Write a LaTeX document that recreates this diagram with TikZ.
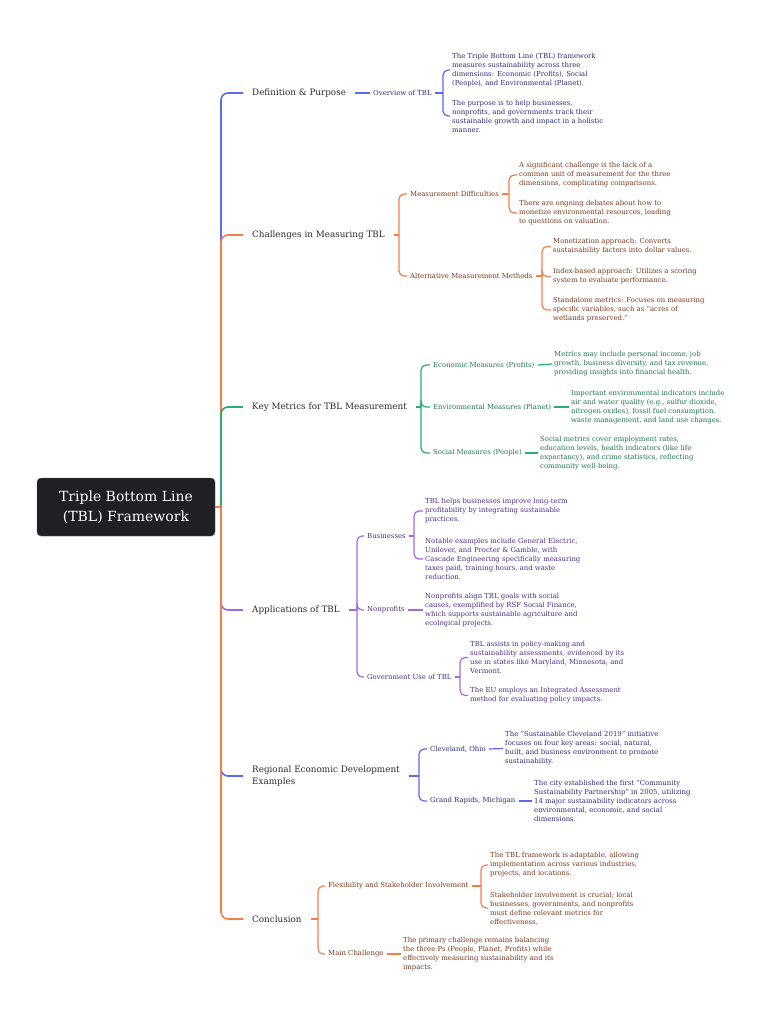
\documentclass[tikz,border=0pt]{standalone}
\usepackage{fontspec}
\setmainfont{DejaVu Serif}
\usetikzlibrary{positioning}
\definecolor{tbink}{HTML}{2B2B2B}
\definecolor{tbroot}{HTML}{1F2023}
\definecolor{tbblue}{HTML}{5A6AF2}
\definecolor{tborange}{HTML}{F67F48}
\definecolor{tbgreen}{HTML}{2AAE6E}
\definecolor{tbpurple}{HTML}{A06AE6}
\definecolor{tbnavy}{HTML}{2E2F7C}
\definecolor{tbbrown}{HTML}{7C3A1E}
\definecolor{tbforest}{HTML}{21794D}
\definecolor{tbplum}{HTML}{4E2F86}
\tikzset{
  tb root/.style={fill=tbroot, draw=tbroot!70!white, rounded corners=4pt, text=white,
    minimum width=178pt, minimum height=58pt, align=center,
    font=\fontsize{14}{20}\selectfont},
  tb trunk/.style={draw=#1, line width=1.6pt, rounded corners=7pt},
  tb link/.style={draw=#1, line width=1.2pt, rounded corners=5pt},
  tb branch/.style={anchor=west, inner xsep=9pt, inner ysep=1pt, align=left, text=tbink,
    font=\fontsize{8.8}{12}\selectfont},
  tb sub/.style={anchor=west, inner xsep=3pt, inner ysep=1pt, text=#1,
    font=\fontsize{6.9}{9}\selectfont},
  tb leaf/.style={anchor=west, inner xsep=2pt, inner ysep=0pt, align=left, text=#1,
    font=\fontsize{6.9}{9}\selectfont}
}
\begin{document}
\begin{tikzpicture}[x=1pt, y=-1pt]
  \fill[white] (0,0) rectangle (768,1024);
  \useasboundingbox (0,0) rectangle (768,1024);

  \node[tb root] (root) at (126,507) {Triple Bottom Line\\(TBL) Framework};
  \coordinate (trunk) at (221,507);

  \node[tb branch] (def) at (243,93) {Definition \& Purpose};
  \node[tb branch] (chal) at (243,235) {Challenges in Measuring TBL};
  \node[tb branch] (kpi) at (243,407) {Key Metrics for TBL Measurement};
  \node[tb branch] (apps) at (243,610) {Applications of TBL};
  \node[tb branch] (reg) at (243,776) {Regional Economic Development\\Examples};
  \node[tb branch] (conc) at (243,919) {Conclusion};

  % definition
  \node[tb sub=tbnavy] (def-ov) at (370,93) {Overview of TBL};
  \coordinate (def-j) at (443,93);
  \node[tb leaf=tbnavy] (def-l1) at (450,70) {The Triple Bottom Line (TBL) framework\\measures sustainability across three\\dimensions: Economic (Profits), Social\\(People), and Environmental (Planet).};
  \node[tb leaf=tbnavy] (def-l2) at (450,116) {The purpose is to help businesses,\\nonprofits, and governments track their\\sustainable growth and impact in a holistic\\manner.};
  \draw[tb trunk=tbblue] (trunk) |- (def.west);
  \draw[tb link=tbblue] (def.east) -- (def-ov.west);
  \draw[tb link=tbblue] (def-ov.east) -- (def-j);
  \foreach \l in {def-l1,def-l2} \draw[tb link=tbblue] (def-j) |- (\l.west);

  % challenges
  \coordinate (chal-j) at (399,235);
  \node[tb sub=tbbrown] (chal-md) at (407,194) {Measurement Difficulties};
  \node[tb sub=tbbrown] (chal-am) at (407,276) {Alternative Measurement Methods};
  \coordinate (chal-mdj) at (509,194);
  \node[tb leaf=tbbrown] (chal-md1) at (517,175) {A significant challenge is the lack of a\\common unit of measurement for the three\\dimensions, complicating comparisons.};
  \node[tb leaf=tbbrown] (chal-md2) at (517,213) {There are ongoing debates about how to\\monetize environmental resources, leading\\to questions on valuation.};
  \coordinate (chal-amj) at (542,276);
  \node[tb leaf=tbbrown] (chal-am1) at (551,246.5) {Monetization approach: Converts\\sustainability factors into dollar values.};
  \node[tb leaf=tbbrown] (chal-am2) at (551,276.5) {Index-based approach: Utilizes a scoring\\system to evaluate performance.};
  \node[tb leaf=tbbrown] (chal-am3) at (551,310) {Standalone metrics: Focuses on measuring\\specific variables, such as "acres of\\wetlands preserved."};
  \draw[tb trunk=tborange] (trunk) |- (chal.west);
  \draw[tb link=tborange] (chal.east) -- (chal-j);
  \foreach \l in {chal-md,chal-am} \draw[tb link=tborange] (chal-j) |- (\l.west);
  \draw[tb link=tborange] (chal-md.east) -- (chal-mdj);
  \foreach \l in {chal-md1,chal-md2} \draw[tb link=tborange] (chal-mdj) |- (\l.west);
  \draw[tb link=tborange] (chal-am.east) -- (chal-amj);
  \foreach \l in {chal-am1,chal-am2,chal-am3} \draw[tb link=tborange] (chal-amj) |- (\l.west);

  % key metrics
  \coordinate (kpi-j) at (421,407);
  \node[tb sub=tbforest] (kpi-eco) at (430,365) {Economic Measures (Profits)};
  \node[tb sub=tbforest] (kpi-env) at (430,407) {Environmental Measures (Planet)};
  \node[tb sub=tbforest] (kpi-soc) at (430,453) {Social Measures (People)};
  \node[tb leaf=tbforest] (kpi-eco1) at (552,364) {Metrics may include personal income, job\\growth, business diversity, and tax revenue,\\providing insights into financial health.};
  \node[tb leaf=tbforest] (kpi-env1) at (569,407) {Important environmental indicators include\\air and water quality (e.g., sulfur dioxide,\\nitrogen oxides), fossil fuel consumption,\\waste management, and land use changes.};
  \node[tb leaf=tbforest] (kpi-soc1) at (538,453) {Social metrics cover employment rates,\\education levels, health indicators (like life\\expectancy), and crime statistics, reflecting\\community well-being.};
  \draw[tb trunk=tbgreen] (trunk) |- (kpi.west);
  \draw[tb link=tbgreen] (kpi.east) -- (kpi-j);
  \foreach \l in {kpi-eco,kpi-env,kpi-soc} {
    \draw[tb link=tbgreen] (kpi-j) |- (\l.west);
    \draw[tb link=tbgreen] (\l.east) -- (\l1.west);
  }

  % applications
  \coordinate (apps-j) at (357,610);
  \node[tb sub=tbplum] (apps-bus) at (364,536) {Businesses};
  \node[tb sub=tbplum] (apps-np) at (364,610) {Nonprofits};
  \node[tb sub=tbplum] (apps-gov) at (364,677) {Government Use of TBL};
  \coordinate (apps-busj) at (414,536);
  \node[tb leaf=tbplum] (apps-bus1) at (423,511) {TBL helps businesses improve long-term\\profitability by integrating sustainable\\practices.};
  \node[tb leaf=tbplum] (apps-bus2) at (423,559) {Notable examples include General Electric,\\Unilever, and Procter \& Gamble, with\\Cascade Engineering specifically measuring\\taxes paid, training hours, and waste\\reduction.};
  \node[tb leaf=tbplum] (apps-np1) at (423,610) {Nonprofits align TBL goals with social\\causes, exemplified by RSF Social Finance,\\which supports sustainable agriculture and\\ecological projects.};
  \coordinate (apps-govj) at (460,677);
  \node[tb leaf=tbplum] (apps-gov1) at (468,657.5) {TBL assists in policy-making and\\sustainability assessments, evidenced by its\\use in states like Maryland, Minnesota, and\\Vermont.};
  \node[tb leaf=tbplum] (apps-gov2) at (468,695.5) {The EU employs an Integrated Assessment\\method for evaluating policy impacts.};
  \draw[tb trunk=tbpurple] (trunk) |- (apps.west);
  \draw[tb link=tbpurple] (apps.east) -- (apps-j);
  \foreach \l in {apps-bus,apps-np,apps-gov} \draw[tb link=tbpurple] (apps-j) |- (\l.west);
  \draw[tb link=tbpurple] (apps-bus.east) -- (apps-busj);
  \foreach \l in {apps-bus1,apps-bus2} \draw[tb link=tbpurple] (apps-busj) |- (\l.west);
  \draw[tb link=tbpurple] (apps-np.east) -- (apps-np1.west);
  \draw[tb link=tbpurple] (apps-gov.east) -- (apps-govj);
  \foreach \l in {apps-gov1,apps-gov2} \draw[tb link=tbpurple] (apps-govj) |- (\l.west);

  % regional
  \coordinate (reg-j) at (419,776);
  \node[tb sub=tbnavy] (reg-cle) at (427,749) {Cleveland, Ohio};
  \node[tb sub=tbnavy] (reg-gr) at (427,801) {Grand Rapids, Michigan};
  \node[tb leaf=tbnavy] (reg-cle1) at (503,748.5) {The "Sustainable Cleveland 2019" initiative\\focuses on four key areas: social, natural,\\built, and business environment to promote\\sustainability.};
  \node[tb leaf=tbnavy] (reg-gr1) at (532,801) {The city established the first "Community\\Sustainability Partnership" in 2005, utilizing\\14 major sustainability indicators across\\environmental, economic, and social\\dimensions.};
  \draw[tb trunk=tbblue] (trunk) |- (reg.west);
  \draw[tb link=tbblue] (reg.east) -- (reg-j);
  \foreach \l in {reg-cle,reg-gr} {
    \draw[tb link=tbblue] (reg-j) |- (\l.west);
    \draw[tb link=tbblue] (\l.east) -- (\l1.west);
  }

  % conclusion
  \coordinate (conc-j) at (318,919);
  \node[tb sub=tbbrown] (conc-flex) at (325,886) {Flexibility and Stakeholder Involvement};
  \node[tb sub=tbbrown] (conc-main) at (325,954) {Main Challenge};
  \coordinate (conc-flexj) at (481,886);
  \node[tb leaf=tbbrown] (conc-flex1) at (488,865) {The TBL framework is adaptable, allowing\\implementation across various industries,\\projects, and locations.};
  \node[tb leaf=tbbrown] (conc-flex2) at (488,908) {Stakeholder involvement is crucial; local\\businesses, governments, and nonprofits\\must define relevant metrics for\\effectiveness.};
  \node[tb leaf=tbbrown] (conc-main1) at (401,954) {The primary challenge remains balancing\\the three Ps (People, Planet, Profits) while\\effectively measuring sustainability and its\\impacts.};
  \draw[tb trunk=tborange] (trunk) |- (conc.west);
  \draw[tb link=tborange] (conc.east) -- (conc-j);
  \foreach \l in {conc-flex,conc-main} \draw[tb link=tborange] (conc-j) |- (\l.west);
  \draw[tb link=tborange] (conc-flex.east) -- (conc-flexj);
  \foreach \l in {conc-flex1,conc-flex2} \draw[tb link=tborange] (conc-flexj) |- (\l.west);
  \draw[tb link=tborange] (conc-main.east) -- (conc-main1.west);

  \draw[tb trunk=tborange] (root.east) -- (trunk);
\end{tikzpicture}
\end{document}
